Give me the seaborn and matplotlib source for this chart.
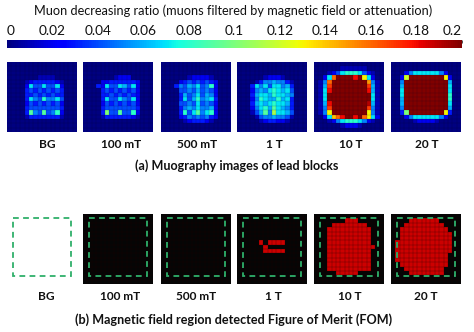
import numpy as np
import matplotlib
matplotlib.use("Agg")
import matplotlib.pyplot as plt
import seaborn as sns
from matplotlib.colors import ListedColormap, Normalize
from matplotlib.patches import Rectangle
from matplotlib.cm import ScalarMappable

# ---------------- data ----------------
panel_labels = ["BG", "100 mT", "500 mT", "1 T", "10 T", "20 T"]
cbar_ticks = [0, 0.02, 0.04, 0.06, 0.08, 0.1, 0.12, 0.14, 0.16, 0.18, 0.2]
cbar_ticklabels = ["0", "0.02", "0.04", "0.06", "0.08", "0.1", "0.12", "0.14", "0.16", "0.18", "0.2"]
cbar_title = "Muon decreasing ratio (muons filtered by magnetic field or attenuation)"
caption_a = "(a) Muography images of lead blocks"
caption_b = "(b) Magnetic field region detected Figure of Merit (FOM)"

# each character = muon decreasing ratio in steps of 0.01 (0 -> 0.00 ... k -> 0.20)
CODES = "0123456789abcdefghijk"

ratio_bg = [
    "0000000000000000", "0000000000000000", "0000000000000000", "0000000111100000",
    "0000123333321000", "0000274474472000", "0000343434343000", "0000334343433000",
    "0000375485574000", "0000243434342000", "0000344444443000", "0000395494582000",
    "0000133333331000", "0000000000000000", "0000000000000000", "0000000000000000",
]
ratio_100mT = [
    "0000000000000000", "0000000000000000", "0000000000000000", "0000000122200000",
    "0000223333332000", "0003274476472000", "0000343434342000", "0000334343432000",
    "0000374475472000", "0000243434342000", "0000344444443000", "00003a4494482000",
    "0000133333321000", "0000000000000000", "0000000000000000", "0000000000000000",
]
ratio_500mT = [
    "0000000000000000", "0000000000000000", "0000000000000000", "0000001222210000",
    "0000234343432000", "0003546574582000", "0000445464542000", "0000364574652000",
    "0000374685673000", "0000445474542000", "0000356575562000", "0000384795782000",
    "0000235454532000", "0000012333210000", "0000000000000000", "0000000000000000",
]
ratio_1T = [
    "0000000000000000", "0000000000000000", "0000000000000000", "0000001222100000",
    "0000135565531000", "0003757477563000", "0002565787674000", "0003677687765000",
    "0002587668673000", "0003676787763000", "0002578697653000", "00014695b7764000",
    "0000145565541000", "0000012332210000", "0000000000000000", "0000000000000000",
]
ratio_10T = [
    "0000000000000000", "0000001111110000", "0001247888742100", "0027gkkkkikd7200",
    "015gkkkkkkkkf510", "016hkkkkkkkkh610", "017ikkkkkkkki610", "017kkkkkkkkkk710",
    "017kkkkkkkkkk710", "016ikkkkkkkkj610", "015hkkkkkkkkh510", "015dkkkkkkkkd510",
    "0027egikkikgd720", "0001257888752100", "0000001222100000", "0000000000000000",
]
ratio_20T = [
    "0000000000000000", "0000000000000000", "0002577777752000", "002ckkkkkkkkd200",
    "005kkkkkkkkkk600", "006kkkkkkkkkk700", "007kkkkkkkkkk700", "007kkkkkkkkkk800",
    "006kkkkkkkkkk800", "006kkkkkkkkkk700", "005kkkkkkkkkk600", "003akkkkkkkkd300",
    "0002577777752000", "0000012222100000", "0000000000000000", "0000000000000000",
]

# FOM: '#' = magnetic field region detected
fom_100mT = ["................"] * 16
fom_500mT = ["................"] * 16
fom_1T = [
    "................", "................", "................", "................",
    "................", "................", ".....#.####.....", "......#.........",
    "......#####.....", "................", "................", "................",
    "................", "................", "................", "................",
]
fom_10T = [
    "................", ".......###......", "....########....", "...##########...",
    "...##########...", "...##########...", "...##########...", "...###########..",
    "...##########...", "...##########...", "...##########...", "...##########...",
    "...##########...", ".....#####......", "................", "................",
]
fom_20T = [
    "................", "....#######.....", "...#########....", "..###########...",
    "..############..", "..############..", ".#############..", ".#############..",
    ".#############..", ".############...", ".############...", "..###########...",
    "...#########....", "....########....", "................", "................",
]

ratio_maps = [ratio_bg, ratio_100mT, ratio_500mT, ratio_1T, ratio_10T, ratio_20T]
fom_maps = [None, fom_100mT, fom_500mT, fom_1T, fom_10T, fom_20T]


def decode_ratio(rows):
    return np.array([[CODES.index(c) * 0.01 for c in r] for r in rows])


def decode_fom(rows):
    return np.array([[1.0 if c == "#" else 0.0 for c in r] for r in rows])


# ---------------- figure ----------------
W, H = 474, 332
FONT = ["Lato", "DejaVu Sans"]
sns.set_style("white")
plt.rcParams["font.family"] = FONT
fig = plt.figure(figsize=(W / 100, H / 100), dpi=100)


def fx(px):
    return px / W


def fy(px):
    return 1 - px / H


def size_for(s, target_px, weight="normal"):
    t = fig.text(0, 0, s, fontsize=10, fontweight=weight)
    r = fig.canvas.get_renderer()
    w = t.get_window_extent(r).width
    t.remove()
    return 10 * target_px / w


def cell_grid(ax, n, color, alpha, lw):
    k = np.arange(1, n)
    ax.hlines(k, 0, n, colors=color, alpha=alpha, linewidth=lw, zorder=3)
    ax.vlines(k, 0, n, colors=color, alpha=alpha, linewidth=lw, zorder=3)


panel_x = [7, 83, 161, 237, 314, 391]
panel_w = 70
label_x = [47, 121, 197, 274, 351, 427]
top_y0, top_y1 = 62, 132
bot_y0, bot_y1 = 214, 284

norm = Normalize(0, 0.2)
fom_cmap = ListedColormap(["#050505", "#cc0000"])
green = "#2fb06a"

# top: muography images
for i, rows in enumerate(ratio_maps):
    ax = fig.add_axes([fx(panel_x[i]), fy(top_y1), panel_w / W, (top_y1 - top_y0) / H])
    data = decode_ratio(rows)
    sns.heatmap(data, ax=ax, cmap="jet", vmin=0, vmax=0.2, cbar=False, linewidths=0,
                xticklabels=False, yticklabels=False)
    cell_grid(ax, data.shape[0], "#000020", 0.3, 0.35)
    ax.set_xticks([]); ax.set_yticks([])

# bottom: FOM
for i, rows in enumerate(fom_maps):
    ax = fig.add_axes([fx(panel_x[i]), fy(bot_y1), panel_w / W, (bot_y1 - bot_y0) / H])
    if rows is None:
        ax.set_xlim(0, 16); ax.set_ylim(16, 0)
        for s in ax.spines.values():
            s.set_visible(False)
    else:
        data = decode_fom(rows)
        sns.heatmap(data, ax=ax, cmap=fom_cmap, vmin=0, vmax=1, cbar=False, linewidths=0,
                    xticklabels=False, yticklabels=False)
        cell_grid(ax, data.shape[0], "#200000", 0.55, 0.35)
    ax.set_xticks([]); ax.set_yticks([])
    ax.add_patch(Rectangle((1.37, 0.91), 13.26, 13.26, fill=False, edgecolor=green,
                           linewidth=1.3, linestyle=(0, (3.2, 2.4)), zorder=5))

# colorbar
cax = fig.add_axes([fx(7), fy(48), (462 - 7) / W, 8 / H])
cb = fig.colorbar(ScalarMappable(norm=norm, cmap="jet"), cax=cax, orientation="horizontal",
                  ticks=cbar_ticks)
cb.outline.set_visible(False)
tick_fs = size_for("0.02", 27)
cax.xaxis.set_ticks_position("top")
cax.xaxis.set_label_position("top")
cax.set_xticks(cbar_ticks)
cax.set_xticklabels(cbar_ticklabels, fontsize=tick_fs, color="#111111")
tl = cax.get_xticklabels()
tl[0].set_horizontalalignment("left")
tl[-1].set_horizontalalignment("right")
cax.tick_params(axis="x", direction="in", length=2, width=0.6, color="#333333", pad=2.5)

title_fs = size_for(cbar_title, 399)
fig.text(fx(233), fy(11), cbar_title, fontsize=title_fs, ha="center", va="center", color="#111111")

label_fs = size_for("100 mT", 41, weight="bold")
for i, lab in enumerate(panel_labels):
    fig.text(fx(label_x[i]), fy(144), lab, fontsize=label_fs, fontweight="bold",
             ha="center", va="center", color="#111111")
    fig.text(fx(label_x[i] - 1), fy(297), lab, fontsize=label_fs, fontweight="bold",
             ha="center", va="center", color="#111111")

cap_fs = size_for(caption_b, 319, weight="bold")
fig.text(fx(237), fy(166), caption_a, fontsize=cap_fs, fontweight="bold",
         ha="center", va="center", color="#111111")
fig.text(fx(233.5), fy(320), caption_b, fontsize=cap_fs, fontweight="bold",
         ha="center", va="center", color="#111111")

fig.savefig("out.png", dpi=100, facecolor="white")
